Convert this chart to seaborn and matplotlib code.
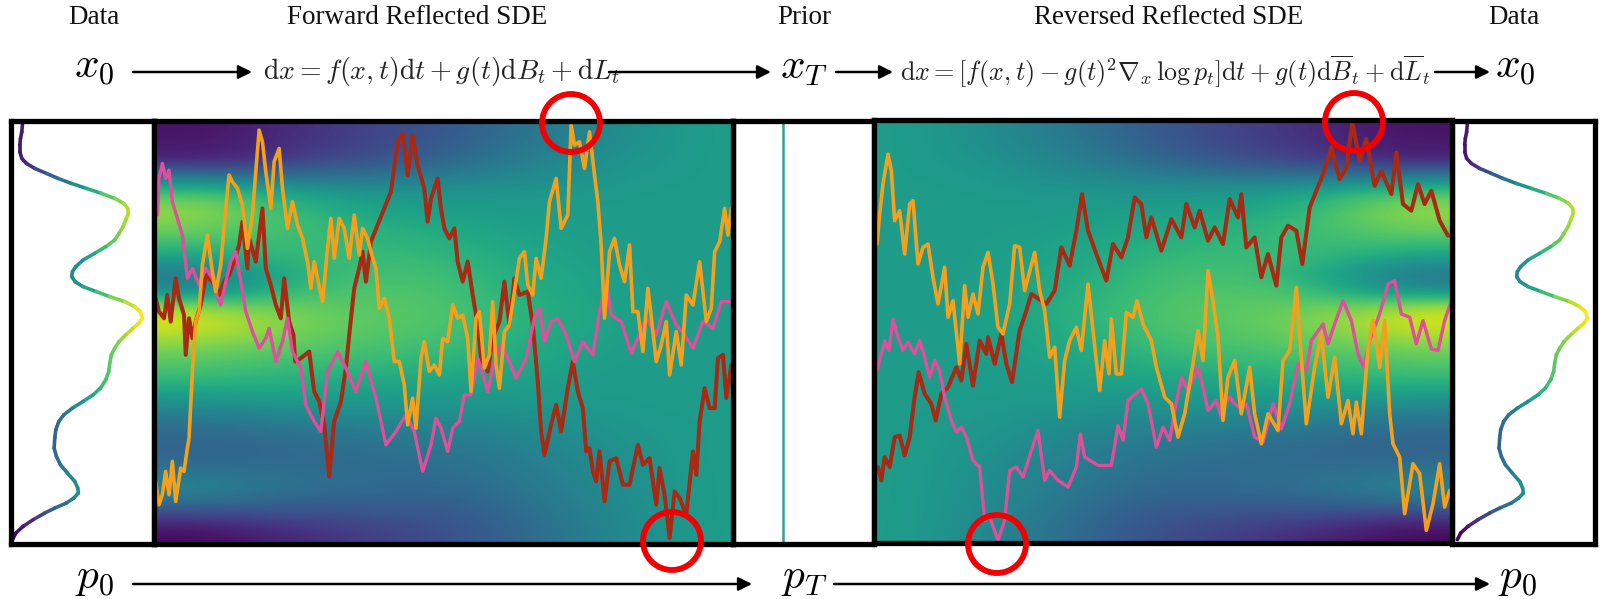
import numpy as np
import matplotlib
matplotlib.use("Agg")
import matplotlib.pyplot as plt
import seaborn as sns
from matplotlib.collections import LineCollection
from matplotlib.patches import Ellipse

# density p0 (state, density)
p0_state = [55, 80, 100, 120, 140, 160, 175, 190, 205, 220, 235, 250, 265, 280, 295, 310, 325, 345,
            365, 385, 405, 425, 445, 465, 485, 500, 515, 530, 545, 560, 575, 590, 605, 620, 640,
            655, 670, 690, 710, 730, 750, 775, 800, 825, 850, 870, 890, 910, 930, 950, 975, 1000,
            1030, 1055, 1080, 1105, 1130, 1150, 1165, 1180, 1195, 1210, 1225, 1245, 1265, 1285, 1305]
p0_value = [68, 66, 62, 60, 60, 66, 80, 105, 140, 175, 215, 260, 305, 345, 372, 384, 386, 378,
            370, 358, 345, 318, 285, 250, 228, 218, 216, 226, 250, 290, 330, 375, 405, 422, 428,
            418, 400, 378, 358, 345, 335, 330, 327, 318, 302, 280, 250, 218, 192, 177, 168, 165,
            163, 170, 182, 203, 225, 234, 236, 222, 200, 165, 135, 100, 70, 48, 38]

# marginal density over time (rows = state top to bottom, columns = forward time)
density_grid = [
    [.05, .07, .12, .17, .22, .27, .34, .41, .47, .52, .55],
    [.07, .08, .13, .18, .23, .29, .36, .42, .48, .52, .55],
    [.10, .12, .18, .23, .27, .33, .39, .45, .50, .53, .55],
    [.42, .40, .38, .38, .40, .43, .46, .49, .52, .54, .55],
    [.72, .68, .60, .55, .53, .52, .52, .53, .54, .55, .55],
    [.84, .78, .68, .60, .57, .56, .55, .55, .55, .55, .55],
    [.80, .76, .70, .66, .62, .60, .57, .56, .55, .55, .55],
    [.70, .70, .68, .66, .65, .63, .60, .57, .56, .55, .55],
    [.55, .60, .66, .68, .68, .66, .62, .58, .56, .55, .55],
    [.40, .47, .60, .68, .70, .69, .64, .60, .57, .55, .55],
    [.48, .54, .66, .72, .72, .71, .65, .61, .57, .55, .55],
    [.88, .80, .78, .75, .74, .72, .67, .62, .58, .55, .55],
    [.95, .90, .82, .76, .74, .72, .67, .62, .58, .55, .55],
    [.85, .82, .78, .74, .72, .70, .65, .60, .57, .55, .55],
    [.76, .74, .72, .70, .68, .66, .62, .59, .56, .55, .55],
    [.70, .68, .66, .64, .63, .61, .59, .57, .55, .55, .55],
    [.60, .60, .60, .58, .57, .56, .56, .55, .55, .55, .55],
    [.48, .50, .52, .52, .52, .52, .52, .53, .54, .55, .55],
    [.38, .40, .42, .45, .46, .46, .48, .50, .52, .54, .55],
    [.33, .34, .36, .38, .40, .42, .44, .47, .51, .53, .55],
    [.32, .32, .34, .35, .37, .38, .41, .45, .49, .53, .55],
    [.38, .37, .36, .35, .35, .36, .39, .43, .48, .52, .55],
    [.46, .42, .38, .36, .34, .34, .37, .42, .47, .52, .55],
    [.36, .34, .32, .30, .30, .30, .34, .40, .46, .51, .55],
    [.14, .16, .20, .22, .24, .26, .31, .38, .45, .51, .55],
    [.02, .05, .10, .15, .20, .24, .30, .37, .44, .50, .55],
]

# forward sample paths
fwd_orange_t = [470, 480, 490, 500, 510, 520, 530, 545, 555, 565, 570, 580, 590, 600, 610, 625, 640, 650,
                665, 680, 690, 700, 715, 730, 745, 760, 770, 780, 790, 800, 815, 825, 840, 850, 865, 880,
                895, 910, 925, 935, 945, 955, 970, 985, 995, 1005, 1020, 1035, 1050, 1065, 1080, 1090,
                1105, 1115, 1130, 1140, 1155, 1170, 1185, 1200, 1215, 1225, 1240, 1250, 1265, 1275,
                1290, 1305, 1320, 1330, 1345, 1360, 1375, 1390, 1405, 1415, 1430, 1440, 1455, 1470, 1480,
                1490, 1500, 1515, 1530, 1545, 1560, 1575, 1585, 1600, 1610, 1625, 1640, 1650, 1670, 1685,
                1705, 1715, 1725, 1740, 1755, 1770, 1785, 1795, 1805, 1815, 1830, 1845, 1860, 1875, 1890,
                1900, 1915, 1930, 1945, 1960, 1970, 1985, 2000, 2010, 2030, 2045, 2060, 2080, 2100, 2120,
                2135, 2145, 2160, 2175, 2185, 2195]
fwd_orange_x = [1130, 1200, 1170, 1100, 1170, 1070, 1190, 1090, 1100, 1030, 1000, 800, 650, 620, 480, 390, 500, 560,
                480, 310, 210, 230, 250, 300, 430, 330, 200, 75, 110, 200, 310, 170, 130, 250, 370, 290,
                360, 400, 470, 550, 470, 520, 590, 430, 340, 460, 340, 370, 460, 330, 450, 370,
                400, 440, 490, 610, 580, 640, 770, 770, 840, 960, 880, 970, 760, 710,
                800, 780, 810, 700, 710, 600, 640, 630, 700, 860, 640, 620, 790, 750, 590,
                780, 850, 680, 660, 560, 460, 440, 540, 570, 460, 520, 400, 290, 220, 370,
                330, 60, 120, 110, 190, 80, 210, 290, 420, 640, 440, 400, 480, 530, 420,
                620, 620, 740, 550, 680, 770, 720, 650, 810, 680, 780, 570, 600, 470, 650,
                610, 440, 410, 310, 390, 310]

fwd_red_t = [470, 480, 495, 505, 515, 530, 540, 555, 560, 570, 580, 590, 605, 620, 640, 660, 675, 690,
             705, 720, 730, 745, 750, 770, 790, 800, 815, 830, 845, 855, 870, 883, 888, 905, 930, 945,
             960, 975, 990, 1005, 1025, 1040, 1050, 1065, 1080, 1090, 1100, 1115, 1135, 1155, 1175, 1195,
             1210, 1225, 1240, 1255, 1275, 1285, 1295, 1315, 1325, 1335, 1350, 1365, 1375, 1390, 1405,
             1420, 1435, 1445, 1465, 1480, 1500, 1515, 1530, 1545, 1560, 1585, 1600, 1615, 1625, 1635,
             1655, 1670, 1685, 1705, 1720, 1735, 1750, 1760, 1770, 1780, 1790, 1800, 1815, 1830, 1850,
             1870, 1890, 1915, 1930, 1950, 1970, 1980, 1995, 2010, 2025, 2040, 2060, 2080, 2090, 2100,
             2115, 2130, 2145, 2155, 2170, 2180, 2195]
fwd_red_x = [580, 620, 640, 570, 650, 520, 580, 630, 750, 640, 700, 650, 600, 510, 530, 570, 530, 510,
             470, 420, 350, 490, 400, 470, 310, 490, 540, 600, 640, 520, 650, 690, 770, 760, 740, 860,
             890, 960, 1115, 950, 890, 790, 690, 550, 490, 440, 530, 410, 360, 310, 260, 110,
             85, 210, 90, 180, 250, 350, 280, 220, 310, 370, 400, 370, 470, 530, 470,
             570, 660, 760, 800, 700, 650, 530, 660, 520, 570, 560, 660, 830, 980, 1050,
             960, 900, 980, 850, 770, 860, 910, 1040, 1030, 1100, 1130, 1040, 1190, 1070, 1060,
             1140, 1140, 1020, 1080, 1060, 1200, 1090, 1170, 1300, 1160, 1180, 1230, 1040, 1110, 950,
             850, 910, 910, 760, 750, 880, 780]

fwd_pink_t = [475, 480, 490, 500, 510, 520, 535, 550, 565, 580, 600, 620, 640, 655, 665, 680, 695, 710,
              725, 740, 760, 780, 800, 810, 830, 850, 865, 880, 905, 920, 945, 965, 985, 1015, 1040, 1070,
              1100, 1130, 1160, 1190, 1220, 1245, 1270, 1295, 1310, 1325, 1345, 1360, 1380, 1395, 1415,
              1435, 1465, 1485, 1505, 1530, 1550, 1580, 1605, 1620, 1635, 1655, 1675, 1700, 1725, 1750,
              1780, 1800, 1820, 1835, 1865, 1895, 1915, 1940, 1970, 2000, 2030, 2055, 2080, 2110, 2140,
              2165, 2195]
fwd_pink_x = [330, 220, 175, 220, 195, 290, 340, 390, 520, 490, 540, 490, 520, 575, 600, 530, 470, 440,
              530, 620, 680, 730, 700, 670, 770, 710, 640, 740, 790, 900, 950, 980, 800, 740, 790, 860,
              770, 880, 1020, 980, 930, 980, 1100, 1020, 940, 970, 1040, 970, 950, 870, 870,
              760, 860, 770, 720, 770, 820, 760, 640, 610, 710, 650, 640, 690, 770, 710,
              750, 620, 530, 630, 650, 745, 700, 640, 690, 590, 660, 690, 730, 650, 670,
              590, 590]

# reversed sample paths
rev_orange_t = [82, 90, 100, 115, 125, 135, 150, 165, 180, 190, 205, 220, 235, 250, 265, 285, 295, 310,
                330, 345, 355, 370, 385, 400, 415, 430, 445, 460, 480, 495, 510, 525, 555, 570, 585, 600,
                615, 630, 645, 660, 680, 695, 715, 730, 750, 765, 778, 785, 800, 815, 830, 850, 862, 880,
                905, 920, 945, 965, 985, 1005, 1030, 1045, 1060, 1075, 1090, 1105, 1120,
                1135, 1155, 1175, 1200, 1215, 1235, 1255, 1285, 1300, 1320, 1340, 1355, 1370, 1395, 1415,
                1435, 1455, 1475, 1495, 1510, 1520, 1535, 1555, 1570, 1590, 1605, 1620, 1630, 1650, 1665,
                1690, 1710, 1730, 1750, 1770, 1785, 1800]
rev_orange_x = [420, 330, 240, 150, 200, 350, 320, 450, 300, 290, 480, 430, 420, 520, 600, 490, 640, 590,
                780, 545, 640, 570, 630, 490, 445, 540, 670, 690, 600, 425, 430, 560, 445, 560, 620, 760,
                730, 940, 770, 710, 670, 740, 540, 680, 860, 710, 810, 645, 810, 810, 625, 640, 590, 660,
                710, 790, 880, 900, 1000, 930, 780, 680, 770, 500, 590, 700, 950,
                820, 770, 930, 790, 930, 1020, 930, 980, 770, 740, 550, 760, 960, 790, 690,
                880, 760, 960, 890, 990, 895, 990, 730, 650, 790, 650, 930, 1020, 1060, 1230,
                1080, 1110, 1280, 1200, 1080, 1210, 1160]

rev_red_t = [85, 95, 105, 120, 135, 150, 165, 180, 195, 207, 225, 245, 258, 275, 295, 320, 335, 350,
             370, 390, 410, 415, 435, 455, 470, 487, 510, 530, 545, 590, 615, 635, 660, 680, 697, 715,
             740, 770, 790, 815, 835, 855, 875, 890, 905, 935, 965, 995, 1010, 1035, 1050,
             1075, 1095, 1120, 1140, 1165, 1175, 1190, 1215, 1235, 1255, 1280, 1295, 1315, 1340, 1358,
             1380, 1400, 1420, 1445, 1470, 1490, 1508, 1530, 1550, 1575, 1595, 1625, 1640, 1660, 1685,
             1705, 1725, 1745, 1770, 1795]
rev_red_x = [1090, 1130, 1060, 1090, 1000, 995, 1055, 1000, 880, 805, 870, 900, 950, 870, 850, 790, 830, 720,
             845, 710, 750, 700, 780, 690, 780, 835, 680, 620, 570, 600, 560, 430, 485, 380, 270, 380,
             450, 530, 420, 460, 400, 280, 300, 400, 340, 440, 345, 400, 300, 370, 320,
             410, 370, 420, 285, 340, 270, 430, 400, 520, 450, 545, 400, 365, 380, 480,
             310, 260, 210, 130, 225, 190, 55, 170, 105, 245, 200, 270, 145, 300, 320,
             240, 300, 260, 350, 395]

rev_pink_t = [82, 95, 105, 118, 130, 145, 160, 175, 195, 210, 225, 240, 255, 270, 285, 305, 320, 335,
              350, 370, 390, 405, 420, 445, 465, 480, 500, 520, 545, 565, 585, 600, 625, 655, 680, 692,
              705, 745, 785, 805, 820, 835, 875, 895, 920, 940, 960, 975, 995, 1015, 1045, 1060, 1075,
              1100, 1115, 1125, 1140, 1155, 1175, 1190, 1215, 1240, 1270, 1295, 1320, 1345, 1370, 1385,
              1420, 1435, 1455, 1480, 1505, 1525, 1542, 1560, 1590, 1615, 1635, 1655, 1680, 1700, 1720,
              1745, 1765, 1785, 1805]
rev_pink_x = [800, 750, 710, 740, 645, 700, 740, 715, 750, 710, 760, 820, 770, 800, 880, 950, 985, 970,
              1000, 1070, 1090, 1250, 1240, 1310, 1250, 1100, 1090, 1120, 1040, 980, 1130, 1100, 1130, 1150, 1090, 990,
              1060, 1085, 1085, 965, 1010, 890, 855, 900, 1030, 970, 1010, 920, 820, 860, 790, 850, 920,
              890, 940, 900, 880, 900, 915, 900, 1000, 1015, 900, 975, 900, 780, 800, 710,
              660, 720, 660, 590, 650, 750, 790, 710, 630, 540, 530, 630, 640, 720, 650,
              735, 740, 650, 590]

RED = "#a82a14"
PINK = "#df4f9b"
ORANGE = "#f5a01c"
W, H = 1602, 599
STATE_LIM = (1318, 46)

sns.set_theme(style="white")
plt.rcParams["font.family"] = ["Liberation Serif", "DejaVu Serif"]
plt.rcParams["mathtext.fontset"] = "cm"


def panel(fig, x0, x1, y0=120.5, y1=544):
    """Axes placed by reference pixels, with the thick black frame."""
    ax = fig.add_axes([x0 / W, 1 - y1 / H, (x1 - x0) / W, (y1 - y0) / H])
    ax.set_ylim(STATE_LIM)
    ax.set_xticks([])
    ax.set_yticks([])
    for s in ax.spines.values():
        s.set_visible(True)
        s.set_color("black")
        s.set_linewidth(3.8)
    return ax


def draw_density(ax):
    state = np.array(p0_state)
    value = np.array(p0_value)
    pts = np.column_stack([value, state]).reshape(-1, 1, 2)
    segs = np.concatenate([pts[:-1], pts[1:]], axis=1)
    lc = LineCollection(segs, cmap="viridis", norm=plt.Normalize(38, 428),
                        linewidth=2.6, capstyle="round")
    lc.set_array((value[:-1] + value[1:]) / 2)
    ax.add_collection(lc)


def draw_paths(ax, grid, xlim, paths):
    ax.imshow(grid, cmap="viridis", vmin=0, vmax=1, aspect="auto", interpolation="bicubic",
              extent=[xlim[0], xlim[1], STATE_LIM[0], STATE_LIM[1]], zorder=0)
    for t, x, color, lw in paths:
        sns.lineplot(x=t, y=x, ax=ax, color=color, linewidth=lw, estimator=None, errorbar=None, legend=False)
    ax.set_xlim(xlim)
    ax.set_ylim(STATE_LIM)
    ax.set_xlabel("")
    ax.set_ylabel("")


fig = plt.figure(figsize=(W / 100, H / 100), dpi=100)

ax_left = panel(fig, 10.5, 154)
ax_left.set_xlim(32, 463)
draw_density(ax_left)

ax_prior = panel(fig, 733, 874)
ax_prior.set_xlim(733, 874)
ax_prior.axvline(783, color="#35a08f", linewidth=1.8)

ax_right = panel(fig, 1452, 1595)
ax_right.set_xlim(22, 451)
draw_density(ax_right)

grid = np.array(density_grid)

ax_fwd = panel(fig, 154, 733)
draw_paths(ax_fwd, grid, (465, 2200), [
    (fwd_red_t, fwd_red_x, RED, 2.9),
    (fwd_pink_t, fwd_pink_x, PINK, 2.4),
    (fwd_orange_t, fwd_orange_x, ORANGE, 2.6),
])

ax_rev = panel(fig, 874, 1452, y0=119.5, y1=543)
draw_paths(ax_rev, np.fliplr(grid), (73, 1807), [
    (rev_red_t, rev_red_x, RED, 2.9),
    (rev_pink_t, rev_pink_x, PINK, 2.4),
    (rev_orange_t, rev_orange_x, ORANGE, 2.6),
])

# overlay in reference pixels for the captions, arrows and circles
top = fig.add_axes([0, 0, 1, 1], zorder=10)
top.set_xlim(0, W)
top.set_ylim(H, 0)
top.axis("off")
top.patch.set_alpha(0)

for xc, label in [(94, "Data"), (417, "Forward Reflected SDE"), (804, "Prior"),
                  (1169, "Reversed Reflected SDE"), (1514, "Data")]:
    top.text(xc, 17, label, ha="center", va="center", fontsize=19.5, color="#111111")

for xc, label in [(94, r"$x_0$"), (804, r"$x_T$"), (1515, r"$x_0$")]:
    top.text(xc, 69, label, ha="center", va="center", fontsize=31, color="black")
for xc, label in [(94, r"$p_0$"), (804, r"$p_T$"), (1517, r"$p_0$")]:
    top.text(xc, 579, label, ha="center", va="center", fontsize=31, color="black")

top.text(442, 72, r"$\mathrm{d}x = f(x,t)\mathrm{d}t + g(t)\mathrm{d}B_t + \mathrm{d}L_t$",
         ha="center", va="center", fontsize=20, color="#222222")
top.text(1165, 72, r"$\mathrm{d}x = [f(x,t) - g(t)^2\nabla_x\,\log p_t]\mathrm{d}t + g(t)\mathrm{d}\overline{B}_t"
         r" + \mathrm{d}\overline{L}_t$", ha="center", va="center", fontsize=18.7, color="#222222")

for x0, x1, y in [(133, 252, 72), (609, 771, 72), (836, 893, 72), (1435, 1490, 72),
                  (133, 752, 584), (834, 1490, 584)]:
    top.annotate("", xy=(x1, y), xytext=(x0, y),
                 arrowprops=dict(arrowstyle="-|>", color="black", lw=1.8, mutation_scale=20, shrinkA=0, shrinkB=0))

for xc, yc in [(571, 123), (672, 541), (997, 544), (1354, 122)]:
    top.add_patch(Ellipse((xc, yc), 58, 58, fill=False, edgecolor="#f00000", linewidth=4.2, clip_on=False))

fig.savefig("out.png", dpi=100)
